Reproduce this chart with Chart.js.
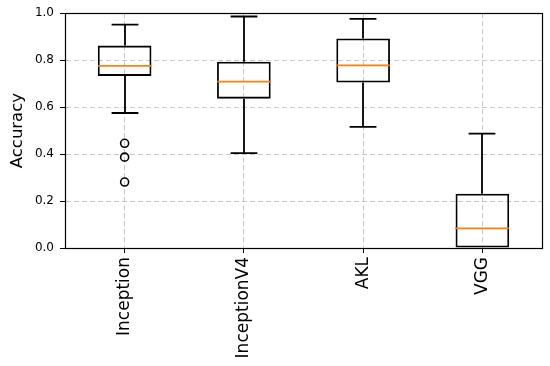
<!DOCTYPE html>
<html>
<head>
<meta charset="utf-8">
<script src="https://cdn.jsdelivr.net/npm/chart.js@4/dist/chart.umd.min.js"></script>
<style>
html,body{margin:0;padding:0;background:#fff;}
#wrap{width:550px;height:366px;}
</style>
</head>
<body>
<div id="wrap"><canvas id="c" width="550" height="366"></canvas></div>
<script>
const categories = ['Inception', 'InceptionV4', 'AKL', 'VGG'];
const whiskerLow  = [0.575, 0.404, 0.516, 0.000];
const q1          = [0.733, 0.636, 0.705, 0.000];
const median      = [0.776, 0.709, 0.778, 0.084];
const q3          = [0.862, 0.793, 0.892, 0.231];
const whiskerHigh = [0.951, 0.986, 0.976, 0.487];
const outlierCats = ['Inception', 'Inception', 'Inception'];
const outlierVals = [0.446, 0.387, 0.281];
const yTicks = [0.0, 0.2, 0.4, 0.6, 0.8, 1.0];

const FONT = "'DejaVu Sans', sans-serif";

const boxPlugin = {
  id: 'boxParts',
  afterDatasetsDraw(chart) {
    const ctx = chart.ctx;
    const y = chart.scales.y;
    const meta = chart.getDatasetMeta(0);
    ctx.save();
    ctx.setLineDash([]);
    meta.data.forEach((bar, i) => {
      const cx = Math.round(bar.x);
      const half = bar.width / 2;
      const capHalf = half / 2;
      ctx.lineWidth = 1.8;
      ctx.strokeStyle = '#000';
      const yq1 = y.getPixelForValue(q1[i]);
      const yq3 = y.getPixelForValue(q3[i]);
      const ylo = y.getPixelForValue(whiskerLow[i]);
      const yhi = y.getPixelForValue(whiskerHigh[i]);
      ctx.beginPath();
      ctx.moveTo(cx, yq3); ctx.lineTo(cx, yhi);
      ctx.moveTo(cx - capHalf, yhi); ctx.lineTo(cx + capHalf, yhi);
      if (whiskerLow[i] < q1[i]) {
        ctx.moveTo(cx, yq1); ctx.lineTo(cx, ylo);
        ctx.moveTo(cx - capHalf, ylo); ctx.lineTo(cx + capHalf, ylo);
      }
      ctx.stroke();
      const ym = y.getPixelForValue(median[i]);
      ctx.strokeStyle = '#ff7f0e';
      ctx.beginPath();
      ctx.moveTo(cx - half, ym); ctx.lineTo(cx + half, ym);
      ctx.stroke();
    });
    const a = chart.chartArea;
    ctx.strokeStyle = '#000';
    ctx.lineWidth = 1.2;
    ctx.strokeRect(Math.round(a.left) + 0.5, Math.round(a.top) + 0.5, Math.round(a.right - a.left), Math.round(a.bottom - a.top));
    ctx.restore();
  }
};

const gridOpts = {
  offset: false,
  color: 'rgba(176,176,176,0.7)',
  lineWidth: 1,
  tickLength: 5,
  tickColor: '#000',
  tickBorderDash: [],
  tickWidth: 1
};

new Chart(document.getElementById('c'), {
  type: 'bar',
  data: {
    labels: categories,
    datasets: [
      {
        type: 'bar',
        data: q1.map((v, i) => [v, q3[i]]),
        backgroundColor: 'rgba(0,0,0,0)',
        borderColor: '#000',
        borderWidth: 1.8,
        borderSkipped: false,
        barPercentage: 0.45,
        categoryPercentage: 1.0,
        order: 2
      },
      {
        type: 'line',
        data: outlierCats.map((c, i) => ({x: c, y: outlierVals[i]})),
        showLine: false,
        pointStyle: 'circle',
        pointRadius: 4,
        pointBorderWidth: 1.6,
        pointBorderColor: '#000',
        pointBackgroundColor: 'rgba(0,0,0,0)',
        order: 1
      }
    ]
  },
  options: {
    responsive: false,
    animation: false,
    events: [],
    layout: { padding: { left: 0, top: 11, right: 8, bottom: 0 } },
    plugins: { legend: { display: false }, tooltip: { enabled: false } },
    scales: {
      x: {
        offset: true,
        grid: gridOpts,
        border: { display: true, color: '#000', width: 1, dash: [5, 3] },
        ticks: {
          color: '#000',
          font: { family: FONT, size: 17 },
          maxRotation: 90,
          minRotation: 90,
          padding: 4,
          autoSkip: false
        },
        afterFit(scale) { scale.height = 118; }
      },
      y: {
        min: 0,
        max: 1,
        afterBuildTicks(scale) { scale.ticks = yTicks.map(v => ({value: v})); },
        grid: gridOpts,
        border: { display: true, color: '#000', width: 1, dash: [5, 3] },
        ticks: {
          color: '#000',
          font: { family: FONT, size: 12 },
          padding: 6,
          callback: v => Number(v).toFixed(1)
        },
        title: {
          display: true,
          text: 'Accuracy',
          color: '#000',
          font: { family: FONT, size: 16.5 },
          padding: { top: 8, bottom: 0 }
        },
        afterFit(scale) { scale.width = 65; }
      }
    }
  },
  plugins: [boxPlugin]
});
</script>
</body>
</html>
